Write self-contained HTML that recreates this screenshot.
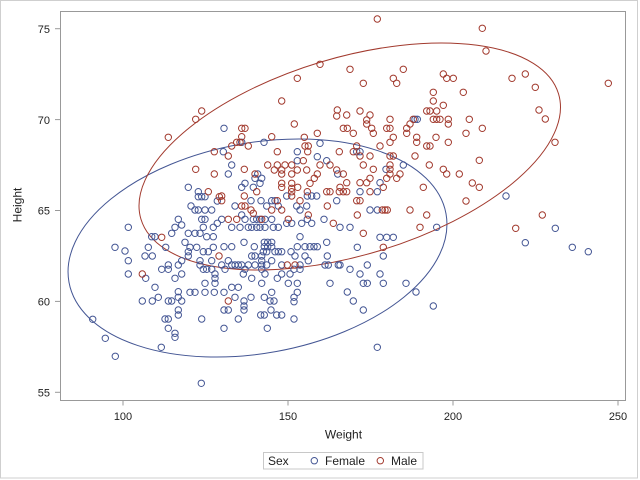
<!DOCTYPE html>
<html><head><meta charset="utf-8"><style>
html,body{margin:0;padding:0;background:#fff;}
svg{display:block;}
text{font-family:"Liberation Sans",Arial,sans-serif;fill:#222;}
</style></head><body>
<svg width="640" height="480" viewBox="0 0 640 480" xmlns="http://www.w3.org/2000/svg">
<rect x="0" y="0" width="640" height="480" fill="#fff"/>
<rect x="0.5" y="0.5" width="637" height="477.5" fill="none" stroke="#cfcfcf" stroke-width="1"/>
<rect x="60.5" y="11.5" width="565" height="389" fill="none" stroke="#999" stroke-width="1"/>
<g stroke="#999" stroke-width="1">
<line x1="55" y1="28.7" x2="60.5" y2="28.7"/><line x1="55" y1="119.6" x2="60.5" y2="119.6"/><line x1="55" y1="210.5" x2="60.5" y2="210.5"/><line x1="55" y1="301.4" x2="60.5" y2="301.4"/><line x1="55" y1="392.3" x2="60.5" y2="392.3"/>
<line x1="123" y1="400.5" x2="123" y2="405.5"/><line x1="288" y1="400.5" x2="288" y2="405.5"/><line x1="453" y1="400.5" x2="453" y2="405.5"/><line x1="618" y1="400.5" x2="618" y2="405.5"/>
</g>
<g font-size="11" text-anchor="end">
<text x="50" y="32.9">75</text><text x="50" y="123.8">70</text><text x="50" y="214.7">65</text><text x="50" y="305.6">60</text><text x="50" y="396.5">55</text>
</g>
<g font-size="11" text-anchor="middle">
<text x="123" y="420">100</text><text x="288" y="420">150</text><text x="453" y="420">200</text><text x="618" y="420">250</text>
</g>
<text x="343.5" y="438.5" font-size="12" text-anchor="middle">Weight</text>
<text transform="translate(21.5,205) rotate(-90)" font-size="12" text-anchor="middle">Height</text>

<ellipse cx="257.5" cy="248" rx="191.6" ry="105.2" transform="rotate(-10.3 257.5 248)" fill="none" stroke="#445694" stroke-width="1"/>
<ellipse cx="349.75" cy="156.5" rx="218" ry="98.8" transform="rotate(-16.7 349.75 156.5)" fill="none" stroke="#A23A2E" stroke-width="1"/>

<g fill="none" stroke="#445694" stroke-width="1">
<circle cx="188.3" cy="187.3" r="3.2"/><circle cx="198.3" cy="191.7" r="3.2"/><circle cx="198.3" cy="196.7" r="3.2"/><circle cx="201.7" cy="196.7" r="3.2"/><circle cx="205" cy="196.7" r="3.2"/><circle cx="217.3" cy="201" r="3.2"/><circle cx="191" cy="206" r="3.2"/><circle cx="195" cy="210" r="3.2"/><circle cx="198.3" cy="210" r="3.2"/><circle cx="205" cy="210" r="3.2"/><circle cx="211.7" cy="210" r="3.2"/><circle cx="178.3" cy="219.3" r="3.2"/><circle cx="201.7" cy="219.3" r="3.2"/><circle cx="205" cy="219.3" r="3.2"/><circle cx="128.3" cy="227.3" r="3.2"/><circle cx="175" cy="227.3" r="3.2"/><circle cx="181.7" cy="225" r="3.2"/><circle cx="203.3" cy="227.3" r="3.2"/><circle cx="213.3" cy="227.3" r="3.2"/><circle cx="217.3" cy="223.3" r="3.2"/>
<circle cx="224" cy="128.3" r="3.2"/><circle cx="241.7" cy="142.3" r="3.2"/><circle cx="264" cy="142.3" r="3.2"/><circle cx="320" cy="143.3" r="3.2"/><circle cx="223.3" cy="151.7" r="3.2"/><circle cx="297.3" cy="151.7" r="3.2"/><circle cx="317.3" cy="156.7" r="3.2"/><circle cx="297.3" cy="160.7" r="3.2"/><circle cx="326.7" cy="160.7" r="3.2"/><circle cx="231.7" cy="165" r="3.2"/><circle cx="228.3" cy="174" r="3.2"/><circle cx="257.7" cy="174" r="3.2"/><circle cx="337.7" cy="174" r="3.2"/><circle cx="255" cy="178.3" r="3.2"/><circle cx="261.7" cy="178.3" r="3.2"/><circle cx="245" cy="183.3" r="3.2"/><circle cx="260" cy="183.3" r="3.2"/><circle cx="241.7" cy="187.3" r="3.2"/><circle cx="253.3" cy="187.3" r="3.2"/><circle cx="286.7" cy="196" r="3.2"/><circle cx="307.3" cy="196" r="3.2"/><circle cx="311.7" cy="196" r="3.2"/><circle cx="316.7" cy="196" r="3.2"/><circle cx="251" cy="200.7" r="3.2"/><circle cx="261" cy="200.7" r="3.2"/><circle cx="271.7" cy="200.7" r="3.2"/><circle cx="275" cy="200.7" r="3.2"/><circle cx="336.7" cy="200.7" r="3.2"/><circle cx="235" cy="206" r="3.2"/><circle cx="266.7" cy="206" r="3.2"/><circle cx="278.3" cy="206" r="3.2"/><circle cx="296.7" cy="206" r="3.2"/><circle cx="306.7" cy="206" r="3.2"/><circle cx="300" cy="210" r="3.2"/><circle cx="241.7" cy="215" r="3.2"/><circle cx="221.7" cy="219.3" r="3.2"/><circle cx="245" cy="219.3" r="3.2"/><circle cx="253.3" cy="219.3" r="3.2"/><circle cx="256.7" cy="219.3" r="3.2"/><circle cx="260" cy="219.3" r="3.2"/><circle cx="265" cy="219.3" r="3.2"/><circle cx="271.7" cy="219.3" r="3.2"/><circle cx="291.7" cy="223.3" r="3.2"/><circle cx="301.7" cy="223.3" r="3.2"/><circle cx="307.3" cy="219.3" r="3.2"/><circle cx="311.7" cy="223.3" r="3.2"/><circle cx="324" cy="219.3" r="3.2"/><circle cx="231.7" cy="227.3" r="3.2"/><circle cx="240" cy="227.3" r="3.2"/><circle cx="248.3" cy="227.3" r="3.2"/><circle cx="251.7" cy="227.3" r="3.2"/><circle cx="256.7" cy="227.3" r="3.2"/><circle cx="260" cy="227.3" r="3.2"/><circle cx="265" cy="227.3" r="3.2"/><circle cx="273.3" cy="227.3" r="3.2"/><circle cx="278.3" cy="227.3" r="3.2"/><circle cx="286.7" cy="223.3" r="3.2"/>
<circle cx="415" cy="119.3" r="3.2"/><circle cx="417.3" cy="119.3" r="3.2"/><circle cx="356.7" cy="151.7" r="3.2"/><circle cx="360" cy="151.7" r="3.2"/><circle cx="403.3" cy="165" r="3.2"/><circle cx="386" cy="169.3" r="3.2"/><circle cx="380" cy="182.7" r="3.2"/><circle cx="360" cy="191.7" r="3.2"/><circle cx="377.3" cy="191.7" r="3.2"/><circle cx="370" cy="210" r="3.2"/><circle cx="377.3" cy="210" r="3.2"/><circle cx="340" cy="227.3" r="3.2"/><circle cx="350" cy="227.3" r="3.2"/><circle cx="436.7" cy="227.3" r="3.2"/>
<circle cx="506" cy="196" r="3.2"/><circle cx="555.3" cy="228.3" r="3.2"/><circle cx="525.3" cy="242.7" r="3.2"/><circle cx="572.3" cy="247.3" r="3.2"/><circle cx="588.3" cy="251.7" r="3.2"/><circle cx="377.3" cy="347.3" r="3.2"/>
<circle cx="380" cy="237.3" r="3.2"/><circle cx="386.7" cy="237.3" r="3.2"/><circle cx="393.3" cy="237.3" r="3.2"/><circle cx="357.3" cy="247.3" r="3.2"/><circle cx="383.3" cy="256" r="3.2"/><circle cx="340" cy="265" r="3.2"/><circle cx="367.3" cy="265" r="3.2"/><circle cx="350" cy="269.3" r="3.2"/><circle cx="360" cy="274" r="3.2"/><circle cx="380" cy="274" r="3.2"/><circle cx="363.3" cy="283.3" r="3.2"/><circle cx="367.3" cy="283.3" r="3.2"/><circle cx="383.3" cy="283.3" r="3.2"/><circle cx="406" cy="283.3" r="3.2"/><circle cx="347.3" cy="292" r="3.2"/><circle cx="416" cy="292" r="3.2"/><circle cx="353.3" cy="301" r="3.2"/><circle cx="363.3" cy="310" r="3.2"/><circle cx="433.3" cy="306" r="3.2"/>
<circle cx="300" cy="236.7" r="3.2"/><circle cx="244" cy="242.3" r="3.2"/><circle cx="326.7" cy="242.3" r="3.2"/><circle cx="224" cy="246.7" r="3.2"/><circle cx="231.7" cy="246.7" r="3.2"/><circle cx="254.3" cy="246.7" r="3.2"/><circle cx="264.3" cy="242.3" r="3.2"/><circle cx="267.7" cy="242.3" r="3.2"/><circle cx="271.7" cy="242.3" r="3.2"/><circle cx="264.3" cy="246.7" r="3.2"/><circle cx="267.7" cy="246.7" r="3.2"/><circle cx="271.7" cy="246.7" r="3.2"/><circle cx="297.3" cy="246.7" r="3.2"/><circle cx="305" cy="246.7" r="3.2"/><circle cx="310" cy="246.7" r="3.2"/><circle cx="314" cy="246.7" r="3.2"/><circle cx="317.3" cy="246.7" r="3.2"/><circle cx="275" cy="251.7" r="3.2"/><circle cx="278.3" cy="251.7" r="3.2"/><circle cx="281.7" cy="251.7" r="3.2"/><circle cx="263.3" cy="251.7" r="3.2"/><circle cx="266.7" cy="251.7" r="3.2"/><circle cx="291" cy="251.7" r="3.2"/><circle cx="251.7" cy="256" r="3.2"/><circle cx="255" cy="256" r="3.2"/><circle cx="261.7" cy="256" r="3.2"/><circle cx="295" cy="256" r="3.2"/><circle cx="305" cy="256" r="3.2"/><circle cx="327.3" cy="256" r="3.2"/><circle cx="228.3" cy="260.7" r="3.2"/><circle cx="261.7" cy="260.7" r="3.2"/><circle cx="271.7" cy="260.7" r="3.2"/><circle cx="308.3" cy="260.7" r="3.2"/><circle cx="221.7" cy="265" r="3.2"/><circle cx="231.7" cy="265" r="3.2"/><circle cx="235" cy="265" r="3.2"/><circle cx="238.3" cy="265" r="3.2"/><circle cx="241.7" cy="265" r="3.2"/><circle cx="248.3" cy="265" r="3.2"/><circle cx="255" cy="265" r="3.2"/><circle cx="261.7" cy="265" r="3.2"/><circle cx="266.7" cy="265" r="3.2"/><circle cx="281.7" cy="265" r="3.2"/><circle cx="300" cy="265" r="3.2"/><circle cx="325" cy="265" r="3.2"/><circle cx="328.3" cy="265" r="3.2"/><circle cx="338.3" cy="265" r="3.2"/><circle cx="225" cy="269.3" r="3.2"/><circle cx="245" cy="269.3" r="3.2"/><circle cx="261.7" cy="269.3" r="3.2"/><circle cx="294" cy="269.3" r="3.2"/><circle cx="300" cy="269.3" r="3.2"/><circle cx="243.3" cy="274" r="3.2"/><circle cx="251.7" cy="278.3" r="3.2"/><circle cx="265" cy="274" r="3.2"/><circle cx="281.7" cy="274" r="3.2"/><circle cx="290" cy="274" r="3.2"/><circle cx="277.3" cy="278.3" r="3.2"/><circle cx="261.7" cy="283.3" r="3.2"/><circle cx="288.3" cy="283.3" r="3.2"/><circle cx="297.3" cy="283.3" r="3.2"/><circle cx="330" cy="283.3" r="3.2"/><circle cx="231.7" cy="287.3" r="3.2"/><circle cx="238.3" cy="287.3" r="3.2"/><circle cx="224" cy="292.3" r="3.2"/><circle cx="271.7" cy="292.3" r="3.2"/><circle cx="297.3" cy="292.3" r="3.2"/><circle cx="235" cy="297.3" r="3.2"/><circle cx="294" cy="297.3" r="3.2"/><circle cx="294" cy="301.7" r="3.2"/><circle cx="251" cy="297.3" r="3.2"/><circle cx="264.3" cy="297.3" r="3.2"/><circle cx="244" cy="301" r="3.2"/><circle cx="244" cy="306" r="3.2"/><circle cx="244" cy="310" r="3.2"/><circle cx="270" cy="301" r="3.2"/><circle cx="274" cy="301" r="3.2"/><circle cx="224" cy="310" r="3.2"/><circle cx="228.3" cy="310" r="3.2"/><circle cx="271" cy="310" r="3.2"/><circle cx="238.3" cy="319" r="3.2"/><circle cx="260.7" cy="315" r="3.2"/><circle cx="264.3" cy="315" r="3.2"/><circle cx="276.7" cy="315" r="3.2"/><circle cx="281.7" cy="315" r="3.2"/><circle cx="294" cy="319" r="3.2"/><circle cx="224" cy="328.3" r="3.2"/><circle cx="267.3" cy="328.3" r="3.2"/>
<circle cx="151.7" cy="236.7" r="3.2"/><circle cx="155" cy="236.7" r="3.2"/><circle cx="115" cy="247.3" r="3.2"/><circle cx="125" cy="251" r="3.2"/><circle cx="148.3" cy="247.3" r="3.2"/><circle cx="165.7" cy="247.3" r="3.2"/><circle cx="171.7" cy="233.3" r="3.2"/><circle cx="188.3" cy="233.3" r="3.2"/><circle cx="195" cy="233.3" r="3.2"/><circle cx="200" cy="233.3" r="3.2"/><circle cx="206.7" cy="236.7" r="3.2"/><circle cx="213.3" cy="236.7" r="3.2"/><circle cx="185" cy="242.3" r="3.2"/><circle cx="190" cy="247.3" r="3.2"/><circle cx="196.7" cy="247.3" r="3.2"/><circle cx="203.3" cy="251.7" r="3.2"/><circle cx="208.3" cy="251.7" r="3.2"/><circle cx="213.3" cy="247.3" r="3.2"/><circle cx="145" cy="256" r="3.2"/><circle cx="152.3" cy="256" r="3.2"/><circle cx="128.3" cy="260.7" r="3.2"/><circle cx="188.3" cy="251.7" r="3.2"/><circle cx="188.3" cy="256" r="3.2"/><circle cx="181.7" cy="260.7" r="3.2"/><circle cx="200" cy="260.7" r="3.2"/><circle cx="211.7" cy="260.7" r="3.2"/><circle cx="168.3" cy="265" r="3.2"/><circle cx="168.3" cy="269.3" r="3.2"/><circle cx="161.7" cy="269.3" r="3.2"/><circle cx="178.3" cy="265" r="3.2"/><circle cx="200" cy="265" r="3.2"/><circle cx="203.3" cy="269.3" r="3.2"/><circle cx="206.7" cy="269.3" r="3.2"/><circle cx="211.7" cy="269.3" r="3.2"/><circle cx="128.3" cy="274" r="3.2"/><circle cx="145.7" cy="278.3" r="3.2"/><circle cx="181.7" cy="274" r="3.2"/><circle cx="175" cy="278.3" r="3.2"/><circle cx="215" cy="274" r="3.2"/><circle cx="215" cy="278.3" r="3.2"/><circle cx="205" cy="283.3" r="3.2"/><circle cx="215" cy="283.3" r="3.2"/><circle cx="155" cy="287.3" r="3.2"/><circle cx="178.3" cy="291.7" r="3.2"/><circle cx="190" cy="292.3" r="3.2"/><circle cx="195" cy="292.3" r="3.2"/><circle cx="205" cy="292.3" r="3.2"/><circle cx="214.3" cy="292.3" r="3.2"/><circle cx="158.3" cy="297.3" r="3.2"/><circle cx="178.3" cy="297.3" r="3.2"/><circle cx="142.3" cy="301" r="3.2"/><circle cx="152.3" cy="301" r="3.2"/><circle cx="168.3" cy="301" r="3.2"/><circle cx="171.7" cy="301" r="3.2"/><circle cx="181.7" cy="301" r="3.2"/><circle cx="178.3" cy="310" r="3.2"/><circle cx="178.3" cy="315" r="3.2"/><circle cx="165" cy="319" r="3.2"/><circle cx="168.3" cy="319" r="3.2"/><circle cx="201.7" cy="319" r="3.2"/><circle cx="168.3" cy="328.3" r="3.2"/><circle cx="175" cy="333.3" r="3.2"/><circle cx="175" cy="337.3" r="3.2"/>
<circle cx="92.7" cy="319.3" r="3.2"/><circle cx="105.3" cy="338.3" r="3.2"/><circle cx="115.3" cy="356.3" r="3.2"/><circle cx="161.3" cy="347.3" r="3.2"/><circle cx="201.3" cy="383.3" r="3.2"/>
</g>

<g fill="none" stroke="#A23A2E" stroke-width="1">
<circle cx="201.7" cy="111" r="3.2"/><circle cx="195.7" cy="119.3" r="3.2"/><circle cx="168.3" cy="137.3" r="3.2"/><circle cx="214.3" cy="151.7" r="3.2"/><circle cx="195.7" cy="169.3" r="3.2"/><circle cx="214.3" cy="174" r="3.2"/><circle cx="208.3" cy="191.7" r="3.2"/><circle cx="219.3" cy="196.7" r="3.2"/><circle cx="297.3" cy="78.3" r="3.2"/><circle cx="281.7" cy="101" r="3.2"/><circle cx="320" cy="64.3" r="3.2"/>
<circle cx="241.7" cy="128.3" r="3.2"/><circle cx="245" cy="128.3" r="3.2"/><circle cx="294.3" cy="124" r="3.2"/><circle cx="241.7" cy="136.7" r="3.2"/><circle cx="271.7" cy="136.7" r="3.2"/><circle cx="317.3" cy="133.3" r="3.2"/><circle cx="336.7" cy="116" r="3.2"/><circle cx="304.3" cy="137.3" r="3.2"/><circle cx="236.7" cy="142.3" r="3.2"/><circle cx="240" cy="142.3" r="3.2"/><circle cx="231.7" cy="146" r="3.2"/><circle cx="248.3" cy="146" r="3.2"/><circle cx="305" cy="146" r="3.2"/><circle cx="308.3" cy="146" r="3.2"/><circle cx="277.3" cy="151.7" r="3.2"/><circle cx="307.7" cy="151.7" r="3.2"/><circle cx="339.3" cy="151.7" r="3.2"/><circle cx="228.3" cy="156" r="3.2"/><circle cx="303.3" cy="160.7" r="3.2"/><circle cx="267.7" cy="165" r="3.2"/><circle cx="277.3" cy="165" r="3.2"/><circle cx="285" cy="165" r="3.2"/><circle cx="291.7" cy="165" r="3.2"/><circle cx="320" cy="165" r="3.2"/><circle cx="330" cy="165" r="3.2"/><circle cx="244.3" cy="169.3" r="3.2"/><circle cx="274.3" cy="170" r="3.2"/><circle cx="281.7" cy="170" r="3.2"/><circle cx="297.3" cy="170" r="3.2"/><circle cx="306.7" cy="170" r="3.2"/><circle cx="336.7" cy="170" r="3.2"/><circle cx="255" cy="174" r="3.2"/><circle cx="281.7" cy="174" r="3.2"/><circle cx="291.7" cy="174" r="3.2"/><circle cx="317.3" cy="174" r="3.2"/><circle cx="314.3" cy="178.3" r="3.2"/><circle cx="310" cy="183.3" r="3.2"/><circle cx="281.7" cy="183.3" r="3.2"/><circle cx="291.7" cy="183.3" r="3.2"/><circle cx="281.7" cy="187.3" r="3.2"/><circle cx="291.7" cy="188.3" r="3.2"/><circle cx="297.7" cy="187.3" r="3.2"/><circle cx="256.7" cy="191.7" r="3.2"/><circle cx="291.7" cy="191.7" r="3.2"/><circle cx="307.3" cy="191.7" r="3.2"/><circle cx="326.7" cy="191.7" r="3.2"/><circle cx="330" cy="191.7" r="3.2"/><circle cx="339.3" cy="191.7" r="3.2"/><circle cx="221.7" cy="196" r="3.2"/><circle cx="244.3" cy="196" r="3.2"/><circle cx="291.7" cy="196" r="3.2"/><circle cx="221.7" cy="200.7" r="3.2"/><circle cx="277.3" cy="200.7" r="3.2"/><circle cx="300" cy="200.7" r="3.2"/><circle cx="241.7" cy="206" r="3.2"/><circle cx="245" cy="206" r="3.2"/><circle cx="327.3" cy="206" r="3.2"/><circle cx="251" cy="210" r="3.2"/><circle cx="271.7" cy="210" r="3.2"/><circle cx="281.7" cy="210" r="3.2"/><circle cx="253.3" cy="213.3" r="3.2"/><circle cx="308.3" cy="215" r="3.2"/><circle cx="228.3" cy="219.3" r="3.2"/><circle cx="236.7" cy="219.3" r="3.2"/><circle cx="261.7" cy="219.3" r="3.2"/><circle cx="288.3" cy="219.3" r="3.2"/><circle cx="333.3" cy="223.3" r="3.2"/>
<circle cx="346.7" cy="115" r="3.2"/><circle cx="360" cy="111" r="3.2"/><circle cx="370" cy="115" r="3.2"/><circle cx="366.7" cy="120" r="3.2"/><circle cx="366.7" cy="124" r="3.2"/><circle cx="390" cy="119.3" r="3.2"/><circle cx="413.3" cy="119.3" r="3.2"/><circle cx="426.7" cy="111" r="3.2"/><circle cx="436.7" cy="111" r="3.2"/><circle cx="433.3" cy="119.3" r="3.2"/><circle cx="436.7" cy="119.3" r="3.2"/><circle cx="440" cy="119.3" r="3.2"/><circle cx="448.3" cy="119.3" r="3.2"/><circle cx="448.3" cy="124" r="3.2"/><circle cx="343.3" cy="128.3" r="3.2"/><circle cx="347.3" cy="128.3" r="3.2"/><circle cx="353.3" cy="133.3" r="3.2"/><circle cx="371.7" cy="128.3" r="3.2"/><circle cx="373.3" cy="133.3" r="3.2"/><circle cx="386.7" cy="128.3" r="3.2"/><circle cx="390" cy="128.3" r="3.2"/><circle cx="410" cy="124" r="3.2"/><circle cx="406.7" cy="128.3" r="3.2"/><circle cx="406.7" cy="133.3" r="3.2"/><circle cx="390" cy="142.3" r="3.2"/><circle cx="393.3" cy="137.3" r="3.2"/><circle cx="416.7" cy="137.3" r="3.2"/><circle cx="416.7" cy="142.3" r="3.2"/><circle cx="436" cy="137.3" r="3.2"/><circle cx="448.3" cy="142.3" r="3.2"/><circle cx="426.7" cy="146" r="3.2"/><circle cx="430" cy="146" r="3.2"/><circle cx="380" cy="146" r="3.2"/><circle cx="356.7" cy="146" r="3.2"/><circle cx="353.3" cy="151.7" r="3.2"/><circle cx="360" cy="156" r="3.2"/><circle cx="370" cy="156" r="3.2"/><circle cx="390" cy="156" r="3.2"/><circle cx="393.3" cy="156" r="3.2"/><circle cx="415" cy="156" r="3.2"/><circle cx="363.3" cy="165" r="3.2"/><circle cx="390" cy="165" r="3.2"/><circle cx="373.3" cy="169.3" r="3.2"/><circle cx="429.3" cy="165" r="3.2"/><circle cx="390" cy="169.3" r="3.2"/><circle cx="343.3" cy="174" r="3.2"/><circle cx="390" cy="174" r="3.2"/><circle cx="400" cy="174" r="3.2"/><circle cx="443.3" cy="169.3" r="3.2"/><circle cx="446.7" cy="174" r="3.2"/><circle cx="370" cy="178.3" r="3.2"/><circle cx="386.7" cy="178.3" r="3.2"/><circle cx="396.7" cy="178.3" r="3.2"/><circle cx="346.7" cy="182.7" r="3.2"/><circle cx="360" cy="182.7" r="3.2"/><circle cx="366.7" cy="182.7" r="3.2"/><circle cx="340" cy="187.3" r="3.2"/><circle cx="383.3" cy="187.3" r="3.2"/><circle cx="423.3" cy="187.3" r="3.2"/><circle cx="343.3" cy="191.7" r="3.2"/><circle cx="346.7" cy="191.7" r="3.2"/><circle cx="370" cy="191.7" r="3.2"/><circle cx="356.7" cy="200.7" r="3.2"/><circle cx="360" cy="200.7" r="3.2"/><circle cx="382.3" cy="210" r="3.2"/><circle cx="385" cy="210" r="3.2"/><circle cx="387.3" cy="210" r="3.2"/><circle cx="410" cy="210" r="3.2"/><circle cx="357.3" cy="215" r="3.2"/><circle cx="426.7" cy="215" r="3.2"/><circle cx="420" cy="227.3" r="3.2"/>
<circle cx="377.3" cy="19" r="3.2"/><circle cx="482.3" cy="28.3" r="3.2"/><circle cx="486" cy="51" r="3.2"/><circle cx="350" cy="69.3" r="3.2"/><circle cx="403.3" cy="69.3" r="3.2"/><circle cx="363.3" cy="83.3" r="3.2"/><circle cx="393.3" cy="78.3" r="3.2"/><circle cx="396.7" cy="83.3" r="3.2"/><circle cx="443.3" cy="74" r="3.2"/><circle cx="446.7" cy="78.3" r="3.2"/><circle cx="453.3" cy="78.3" r="3.2"/><circle cx="512" cy="78.3" r="3.2"/><circle cx="525.3" cy="74" r="3.2"/><circle cx="535.3" cy="87.3" r="3.2"/><circle cx="608.3" cy="83.3" r="3.2"/><circle cx="463.3" cy="92.3" r="3.2"/><circle cx="433.3" cy="92.3" r="3.2"/><circle cx="433.3" cy="101" r="3.2"/><circle cx="443.3" cy="105.3" r="3.2"/><circle cx="430" cy="111" r="3.2"/><circle cx="337.3" cy="110" r="3.2"/><circle cx="469.3" cy="119.3" r="3.2"/><circle cx="482.3" cy="128.3" r="3.2"/><circle cx="466" cy="133.3" r="3.2"/><circle cx="539" cy="110" r="3.2"/><circle cx="545.3" cy="119" r="3.2"/><circle cx="555" cy="142.3" r="3.2"/><circle cx="479.3" cy="160.3" r="3.2"/><circle cx="459.3" cy="174" r="3.2"/><circle cx="472.3" cy="183" r="3.2"/><circle cx="479.3" cy="187.3" r="3.2"/><circle cx="466" cy="201" r="3.2"/><circle cx="542.3" cy="215" r="3.2"/><circle cx="515.7" cy="228.3" r="3.2"/>
<circle cx="363.3" cy="233.3" r="3.2"/><circle cx="383.3" cy="247.3" r="3.2"/><circle cx="219" cy="256" r="3.2"/><circle cx="287.3" cy="265" r="3.2"/><circle cx="295" cy="265" r="3.2"/><circle cx="228.3" cy="301" r="3.2"/><circle cx="161.7" cy="237.3" r="3.2"/><circle cx="142.3" cy="274" r="3.2"/>
</g>

<rect x="263.5" y="452.5" width="159.5" height="16.5" fill="none" stroke="#c8c8c8" stroke-width="1"/>
<text x="268" y="465" font-size="12">Sex</text>
<circle cx="314.3" cy="460.7" r="3.2" fill="none" stroke="#445694" stroke-width="1"/>
<text x="325" y="465" font-size="12">Female</text>
<circle cx="380.3" cy="460.7" r="3.2" fill="none" stroke="#A23A2E" stroke-width="1"/>
<text x="391" y="465" font-size="12">Male</text>
</svg>
</body></html>
